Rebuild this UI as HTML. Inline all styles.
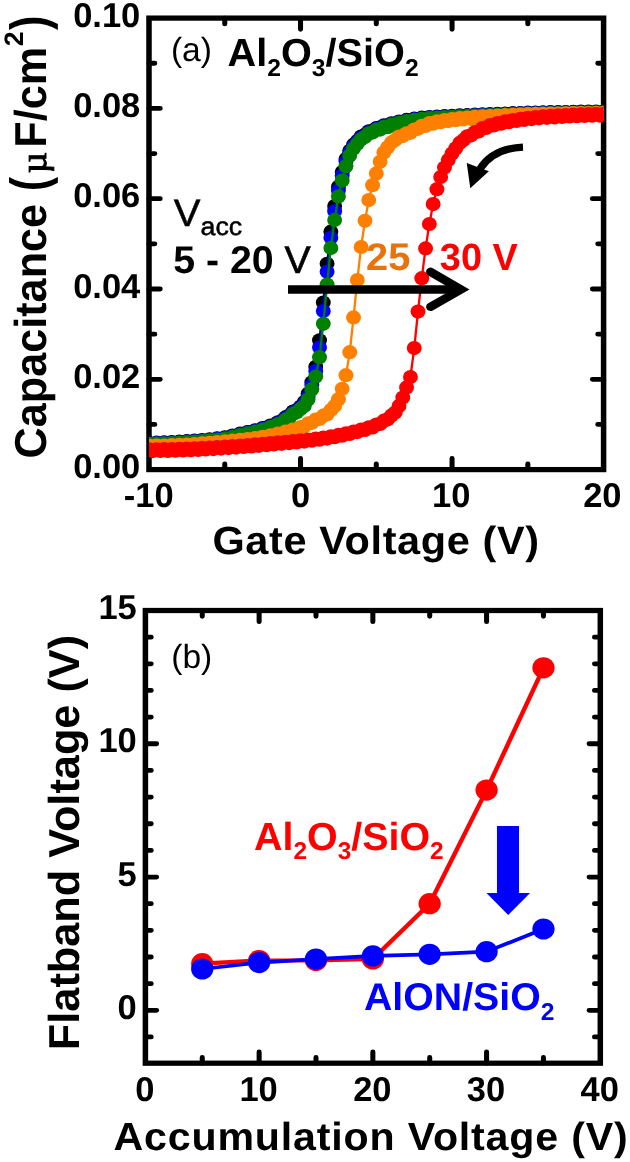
<!DOCTYPE html>
<html lang="en"><head><meta charset="utf-8"><title>C-V characteristics and flatband voltage</title>
<style>html,body{margin:0;padding:0;background:#fff}svg{display:block}</style></head>
<body>
<svg width="630" height="1162" viewBox="0 0 630 1162" font-family="'Liberation Sans', Arial, sans-serif" font-weight="bold" text-rendering="geometricPrecision">
<rect width="630" height="1162" fill="#fff"/>
<g transform="scale(1.05 1)">
<rect x="141.90" y="18.10" width="432.95" height="451.50" fill="none" stroke="#000" stroke-width="5.25" stroke-linejoin="miter"/>
<path d="M286.22 469.60L286.22 458.40 M286.22 18.10L286.22 29.30 M430.54 469.60L430.54 458.40 M430.54 18.10L430.54 29.30 M214.06 469.60L214.06 463.80 M214.06 18.10L214.06 23.90 M358.38 469.60L358.38 463.80 M358.38 18.10L358.38 23.90 M502.70 469.60L502.70 463.80 M502.70 18.10L502.70 23.90 M141.90 379.30L152.57 379.30 M574.86 379.30L564.19 379.30 M141.90 289.00L152.57 289.00 M574.86 289.00L564.19 289.00 M141.90 198.70L152.57 198.70 M574.86 198.70L564.19 198.70 M141.90 108.40L152.57 108.40 M574.86 108.40L564.19 108.40 M141.90 424.45L147.43 424.45 M574.86 424.45L569.33 424.45 M141.90 334.15L147.43 334.15 M574.86 334.15L569.33 334.15 M141.90 243.85L147.43 243.85 M574.86 243.85L569.33 243.85 M141.90 153.55L147.43 153.55 M574.86 153.55L569.33 153.55 M141.90 63.25L147.43 63.25 M574.86 63.25L569.33 63.25" fill="none" stroke="#000" stroke-width="4.8" stroke-linecap="round"/>
<clipPath id="clipT"><rect x="141.90" y="18.1" width="432.95" height="451.50"/></clipPath>
<g id="cv" clip-path="url(#clipT)">
<polyline points="141.9,442.9 145.5,444.6 149.1,442.7 152.7,444.4 156.3,442.4 159.9,444.0 163.6,442.1 167.2,443.6 170.8,441.6 174.4,443.1 178.0,441.1 181.6,442.6 185.2,440.6 188.8,442.0 192.4,440.0 196.0,441.4 199.6,439.3 203.2,440.5 206.8,438.4 210.5,439.5 214.1,437.3 217.7,438.1 221.3,435.6 224.9,436.2 228.5,433.7 232.1,434.4 235.7,432.0 239.3,432.7 242.9,430.3 246.5,430.7 250.1,428.1 253.8,428.3 257.4,425.6 261.0,425.4 264.6,422.3 268.2,421.2 271.8,417.4 275.4,415.5 279.0,411.6 282.6,410.2 286.2,406.5 289.8,402.0 293.4,393.8 297.0,382.3 300.7,366.8 304.3,340.3 307.9,302.6 311.5,263.8 315.1,231.7 318.7,206.0 322.3,186.8 325.9,172.1 329.5,158.9 333.1,150.8 336.7,144.7 340.3,140.9 343.9,136.6 347.6,134.7 351.2,131.3 354.8,130.9 358.4,128.0 362.0,128.0 365.6,125.3 369.2,125.8 372.8,123.3 376.4,123.9 380.0,121.5 383.6,122.3 387.2,119.9 390.9,120.9 394.5,118.7 398.1,119.8 401.7,117.7 405.3,119.1 408.9,117.1 412.5,118.6 416.1,116.6 419.7,118.1 423.3,116.2 426.9,117.7 430.5,115.8 434.1,117.3 437.8,115.4 441.4,117.0 445.0,115.1 448.6,116.6 452.2,114.7 455.8,116.3 459.4,114.4 463.0,116.0 466.6,114.1 470.2,115.7 473.8,113.8 477.4,115.4 481.1,113.5 484.7,115.1 488.3,113.2 491.9,114.9 495.5,113.0 499.1,114.6 502.7,112.7 506.3,114.4 509.9,112.5 513.5,114.2 517.1,112.4 520.7,114.1 524.3,112.2 528.0,113.9 531.6,112.1 535.2,113.8 538.8,112.0 542.4,113.7 546.0,111.8 549.6,113.6 553.2,111.7 556.8,113.5 560.4,111.7 564.0,113.4 567.6,111.6 571.2,113.4 574.9,111.6" fill="none" stroke="#000000" stroke-width="2.2" stroke-linejoin="round"/>
<g fill="#000000"><circle cx="141.9" cy="442.9" r="7.1"/><circle cx="145.5" cy="444.6" r="7.1"/><circle cx="149.1" cy="442.7" r="7.1"/><circle cx="152.7" cy="444.4" r="7.1"/><circle cx="156.3" cy="442.4" r="7.1"/><circle cx="159.9" cy="444.0" r="7.1"/><circle cx="163.6" cy="442.1" r="7.1"/><circle cx="167.2" cy="443.6" r="7.1"/><circle cx="170.8" cy="441.6" r="7.1"/><circle cx="174.4" cy="443.1" r="7.1"/><circle cx="178.0" cy="441.1" r="7.1"/><circle cx="181.6" cy="442.6" r="7.1"/><circle cx="185.2" cy="440.6" r="7.1"/><circle cx="188.8" cy="442.0" r="7.1"/><circle cx="192.4" cy="440.0" r="7.1"/><circle cx="196.0" cy="441.4" r="7.1"/><circle cx="199.6" cy="439.3" r="7.1"/><circle cx="203.2" cy="440.5" r="7.1"/><circle cx="206.8" cy="438.4" r="7.1"/><circle cx="210.5" cy="439.5" r="7.1"/><circle cx="214.1" cy="437.3" r="7.1"/><circle cx="217.7" cy="438.1" r="7.1"/><circle cx="221.3" cy="435.6" r="7.1"/><circle cx="224.9" cy="436.2" r="7.1"/><circle cx="228.5" cy="433.7" r="7.1"/><circle cx="232.1" cy="434.4" r="7.1"/><circle cx="235.7" cy="432.0" r="7.1"/><circle cx="239.3" cy="432.7" r="7.1"/><circle cx="242.9" cy="430.3" r="7.1"/><circle cx="246.5" cy="430.7" r="7.1"/><circle cx="250.1" cy="428.1" r="7.1"/><circle cx="253.8" cy="428.3" r="7.1"/><circle cx="257.4" cy="425.6" r="7.1"/><circle cx="261.0" cy="425.4" r="7.1"/><circle cx="264.6" cy="422.3" r="7.1"/><circle cx="268.2" cy="421.2" r="7.1"/><circle cx="271.8" cy="417.4" r="7.1"/><circle cx="275.4" cy="415.5" r="7.1"/><circle cx="279.0" cy="411.6" r="7.1"/><circle cx="282.6" cy="410.2" r="7.1"/><circle cx="286.2" cy="406.5" r="7.1"/><circle cx="289.8" cy="402.0" r="7.1"/><circle cx="293.4" cy="393.8" r="7.1"/><circle cx="297.0" cy="382.3" r="7.1"/><circle cx="300.7" cy="366.8" r="7.1"/><circle cx="304.3" cy="340.3" r="7.1"/><circle cx="307.9" cy="302.6" r="7.1"/><circle cx="311.5" cy="263.8" r="7.1"/><circle cx="315.1" cy="231.7" r="7.1"/><circle cx="318.7" cy="206.0" r="7.1"/><circle cx="322.3" cy="186.8" r="7.1"/><circle cx="325.9" cy="172.1" r="7.1"/><circle cx="329.5" cy="158.9" r="7.1"/><circle cx="333.1" cy="150.8" r="7.1"/><circle cx="336.7" cy="144.7" r="7.1"/><circle cx="340.3" cy="140.9" r="7.1"/><circle cx="343.9" cy="136.6" r="7.1"/><circle cx="347.6" cy="134.7" r="7.1"/><circle cx="351.2" cy="131.3" r="7.1"/><circle cx="354.8" cy="130.9" r="7.1"/><circle cx="358.4" cy="128.0" r="7.1"/><circle cx="362.0" cy="128.0" r="7.1"/><circle cx="365.6" cy="125.3" r="7.1"/><circle cx="369.2" cy="125.8" r="7.1"/><circle cx="372.8" cy="123.3" r="7.1"/><circle cx="376.4" cy="123.9" r="7.1"/><circle cx="380.0" cy="121.5" r="7.1"/><circle cx="383.6" cy="122.3" r="7.1"/><circle cx="387.2" cy="119.9" r="7.1"/><circle cx="390.9" cy="120.9" r="7.1"/><circle cx="394.5" cy="118.7" r="7.1"/><circle cx="398.1" cy="119.8" r="7.1"/><circle cx="401.7" cy="117.7" r="7.1"/><circle cx="405.3" cy="119.1" r="7.1"/><circle cx="408.9" cy="117.1" r="7.1"/><circle cx="412.5" cy="118.6" r="7.1"/><circle cx="416.1" cy="116.6" r="7.1"/><circle cx="419.7" cy="118.1" r="7.1"/><circle cx="423.3" cy="116.2" r="7.1"/><circle cx="426.9" cy="117.7" r="7.1"/><circle cx="430.5" cy="115.8" r="7.1"/><circle cx="434.1" cy="117.3" r="7.1"/><circle cx="437.8" cy="115.4" r="7.1"/><circle cx="441.4" cy="117.0" r="7.1"/><circle cx="445.0" cy="115.1" r="7.1"/><circle cx="448.6" cy="116.6" r="7.1"/><circle cx="452.2" cy="114.7" r="7.1"/><circle cx="455.8" cy="116.3" r="7.1"/><circle cx="459.4" cy="114.4" r="7.1"/><circle cx="463.0" cy="116.0" r="7.1"/><circle cx="466.6" cy="114.1" r="7.1"/><circle cx="470.2" cy="115.7" r="7.1"/><circle cx="473.8" cy="113.8" r="7.1"/><circle cx="477.4" cy="115.4" r="7.1"/><circle cx="481.1" cy="113.5" r="7.1"/><circle cx="484.7" cy="115.1" r="7.1"/><circle cx="488.3" cy="113.2" r="7.1"/><circle cx="491.9" cy="114.9" r="7.1"/><circle cx="495.5" cy="113.0" r="7.1"/><circle cx="499.1" cy="114.6" r="7.1"/><circle cx="502.7" cy="112.7" r="7.1"/><circle cx="506.3" cy="114.4" r="7.1"/><circle cx="509.9" cy="112.5" r="7.1"/><circle cx="513.5" cy="114.2" r="7.1"/><circle cx="517.1" cy="112.4" r="7.1"/><circle cx="520.7" cy="114.1" r="7.1"/><circle cx="524.3" cy="112.2" r="7.1"/><circle cx="528.0" cy="113.9" r="7.1"/><circle cx="531.6" cy="112.1" r="7.1"/><circle cx="535.2" cy="113.8" r="7.1"/><circle cx="538.8" cy="112.0" r="7.1"/><circle cx="542.4" cy="113.7" r="7.1"/><circle cx="546.0" cy="111.8" r="7.1"/><circle cx="549.6" cy="113.6" r="7.1"/><circle cx="553.2" cy="111.7" r="7.1"/><circle cx="556.8" cy="113.5" r="7.1"/><circle cx="560.4" cy="111.7" r="7.1"/><circle cx="564.0" cy="113.4" r="7.1"/><circle cx="567.6" cy="111.6" r="7.1"/><circle cx="571.2" cy="113.4" r="7.1"/><circle cx="574.9" cy="111.6" r="7.1"/></g>
<polyline points="141.9,443.4 145.5,445.1 149.1,443.2 152.7,444.8 156.3,442.9 159.9,444.5 163.6,442.5 167.2,444.1 170.8,442.1 174.4,443.6 178.0,441.6 181.6,443.1 185.2,441.1 188.8,442.5 192.4,440.5 196.0,441.9 199.6,439.8 203.2,441.1 206.8,438.9 210.5,440.1 214.1,437.9 217.7,438.7 221.3,436.2 224.9,436.8 228.5,434.3 232.1,435.0 235.7,432.7 239.3,433.4 242.9,430.9 246.5,431.4 250.1,428.8 253.8,429.0 257.4,426.3 261.0,426.2 264.6,423.2 268.2,422.1 271.8,418.4 275.4,416.5 279.0,412.6 282.6,411.1 286.2,407.5 289.8,403.7 293.4,396.4 297.0,385.1 300.7,370.9 304.3,347.5 307.9,311.1 311.5,271.8 315.1,237.8 318.7,211.3 322.3,190.4 325.9,175.5 329.5,161.6 333.1,152.7 336.7,146.3 340.3,142.1 343.9,137.7 347.6,135.7 351.2,132.2 354.8,131.6 358.4,128.7 362.0,128.7 365.6,126.0 369.2,126.4 372.8,123.9 376.4,124.5 380.0,122.1 383.6,122.9 387.2,120.5 390.9,121.4 394.5,119.2 398.1,120.4 401.7,118.3 405.3,119.6 408.9,117.6 412.5,119.1 416.1,117.1 419.7,118.6 423.3,116.7 426.9,118.2 430.5,116.3 434.1,117.8 437.8,115.9 441.4,117.5 445.0,115.5 448.6,117.1 452.2,115.2 455.8,116.8 459.4,114.9 463.0,116.5 466.6,114.6 470.2,116.2 473.8,114.3 477.4,115.9 481.1,114.0 484.7,115.6 488.3,113.7 491.9,115.3 495.5,113.4 499.1,115.1 502.7,113.2 506.3,114.9 509.9,113.0 513.5,114.7 517.1,112.8 520.7,114.5 524.3,112.7 528.0,114.4 531.6,112.5 535.2,114.3 538.8,112.4 542.4,114.1 546.0,112.3 549.6,114.0 553.2,112.2 556.8,113.9 560.4,112.1 564.0,113.9 567.6,112.0 571.2,113.8 574.9,112.0" fill="none" stroke="#0000ff" stroke-width="2.2" stroke-linejoin="round"/>
<g fill="#0000ff"><circle cx="141.9" cy="443.4" r="7.1"/><circle cx="145.5" cy="445.1" r="7.1"/><circle cx="149.1" cy="443.2" r="7.1"/><circle cx="152.7" cy="444.8" r="7.1"/><circle cx="156.3" cy="442.9" r="7.1"/><circle cx="159.9" cy="444.5" r="7.1"/><circle cx="163.6" cy="442.5" r="7.1"/><circle cx="167.2" cy="444.1" r="7.1"/><circle cx="170.8" cy="442.1" r="7.1"/><circle cx="174.4" cy="443.6" r="7.1"/><circle cx="178.0" cy="441.6" r="7.1"/><circle cx="181.6" cy="443.1" r="7.1"/><circle cx="185.2" cy="441.1" r="7.1"/><circle cx="188.8" cy="442.5" r="7.1"/><circle cx="192.4" cy="440.5" r="7.1"/><circle cx="196.0" cy="441.9" r="7.1"/><circle cx="199.6" cy="439.8" r="7.1"/><circle cx="203.2" cy="441.1" r="7.1"/><circle cx="206.8" cy="438.9" r="7.1"/><circle cx="210.5" cy="440.1" r="7.1"/><circle cx="214.1" cy="437.9" r="7.1"/><circle cx="217.7" cy="438.7" r="7.1"/><circle cx="221.3" cy="436.2" r="7.1"/><circle cx="224.9" cy="436.8" r="7.1"/><circle cx="228.5" cy="434.3" r="7.1"/><circle cx="232.1" cy="435.0" r="7.1"/><circle cx="235.7" cy="432.7" r="7.1"/><circle cx="239.3" cy="433.4" r="7.1"/><circle cx="242.9" cy="430.9" r="7.1"/><circle cx="246.5" cy="431.4" r="7.1"/><circle cx="250.1" cy="428.8" r="7.1"/><circle cx="253.8" cy="429.0" r="7.1"/><circle cx="257.4" cy="426.3" r="7.1"/><circle cx="261.0" cy="426.2" r="7.1"/><circle cx="264.6" cy="423.2" r="7.1"/><circle cx="268.2" cy="422.1" r="7.1"/><circle cx="271.8" cy="418.4" r="7.1"/><circle cx="275.4" cy="416.5" r="7.1"/><circle cx="279.0" cy="412.6" r="7.1"/><circle cx="282.6" cy="411.1" r="7.1"/><circle cx="286.2" cy="407.5" r="7.1"/><circle cx="289.8" cy="403.7" r="7.1"/><circle cx="293.4" cy="396.4" r="7.1"/><circle cx="297.0" cy="385.1" r="7.1"/><circle cx="300.7" cy="370.9" r="7.1"/><circle cx="304.3" cy="347.5" r="7.1"/><circle cx="307.9" cy="311.1" r="7.1"/><circle cx="311.5" cy="271.8" r="7.1"/><circle cx="315.1" cy="237.8" r="7.1"/><circle cx="318.7" cy="211.3" r="7.1"/><circle cx="322.3" cy="190.4" r="7.1"/><circle cx="325.9" cy="175.5" r="7.1"/><circle cx="329.5" cy="161.6" r="7.1"/><circle cx="333.1" cy="152.7" r="7.1"/><circle cx="336.7" cy="146.3" r="7.1"/><circle cx="340.3" cy="142.1" r="7.1"/><circle cx="343.9" cy="137.7" r="7.1"/><circle cx="347.6" cy="135.7" r="7.1"/><circle cx="351.2" cy="132.2" r="7.1"/><circle cx="354.8" cy="131.6" r="7.1"/><circle cx="358.4" cy="128.7" r="7.1"/><circle cx="362.0" cy="128.7" r="7.1"/><circle cx="365.6" cy="126.0" r="7.1"/><circle cx="369.2" cy="126.4" r="7.1"/><circle cx="372.8" cy="123.9" r="7.1"/><circle cx="376.4" cy="124.5" r="7.1"/><circle cx="380.0" cy="122.1" r="7.1"/><circle cx="383.6" cy="122.9" r="7.1"/><circle cx="387.2" cy="120.5" r="7.1"/><circle cx="390.9" cy="121.4" r="7.1"/><circle cx="394.5" cy="119.2" r="7.1"/><circle cx="398.1" cy="120.4" r="7.1"/><circle cx="401.7" cy="118.3" r="7.1"/><circle cx="405.3" cy="119.6" r="7.1"/><circle cx="408.9" cy="117.6" r="7.1"/><circle cx="412.5" cy="119.1" r="7.1"/><circle cx="416.1" cy="117.1" r="7.1"/><circle cx="419.7" cy="118.6" r="7.1"/><circle cx="423.3" cy="116.7" r="7.1"/><circle cx="426.9" cy="118.2" r="7.1"/><circle cx="430.5" cy="116.3" r="7.1"/><circle cx="434.1" cy="117.8" r="7.1"/><circle cx="437.8" cy="115.9" r="7.1"/><circle cx="441.4" cy="117.5" r="7.1"/><circle cx="445.0" cy="115.5" r="7.1"/><circle cx="448.6" cy="117.1" r="7.1"/><circle cx="452.2" cy="115.2" r="7.1"/><circle cx="455.8" cy="116.8" r="7.1"/><circle cx="459.4" cy="114.9" r="7.1"/><circle cx="463.0" cy="116.5" r="7.1"/><circle cx="466.6" cy="114.6" r="7.1"/><circle cx="470.2" cy="116.2" r="7.1"/><circle cx="473.8" cy="114.3" r="7.1"/><circle cx="477.4" cy="115.9" r="7.1"/><circle cx="481.1" cy="114.0" r="7.1"/><circle cx="484.7" cy="115.6" r="7.1"/><circle cx="488.3" cy="113.7" r="7.1"/><circle cx="491.9" cy="115.3" r="7.1"/><circle cx="495.5" cy="113.4" r="7.1"/><circle cx="499.1" cy="115.1" r="7.1"/><circle cx="502.7" cy="113.2" r="7.1"/><circle cx="506.3" cy="114.9" r="7.1"/><circle cx="509.9" cy="113.0" r="7.1"/><circle cx="513.5" cy="114.7" r="7.1"/><circle cx="517.1" cy="112.8" r="7.1"/><circle cx="520.7" cy="114.5" r="7.1"/><circle cx="524.3" cy="112.7" r="7.1"/><circle cx="528.0" cy="114.4" r="7.1"/><circle cx="531.6" cy="112.5" r="7.1"/><circle cx="535.2" cy="114.3" r="7.1"/><circle cx="538.8" cy="112.4" r="7.1"/><circle cx="542.4" cy="114.1" r="7.1"/><circle cx="546.0" cy="112.3" r="7.1"/><circle cx="549.6" cy="114.0" r="7.1"/><circle cx="553.2" cy="112.2" r="7.1"/><circle cx="556.8" cy="113.9" r="7.1"/><circle cx="560.4" cy="112.1" r="7.1"/><circle cx="564.0" cy="113.9" r="7.1"/><circle cx="567.6" cy="112.0" r="7.1"/><circle cx="571.2" cy="113.8" r="7.1"/><circle cx="574.9" cy="112.0" r="7.1"/></g>
<polyline points="141.9,443.9 145.5,445.6 149.1,443.7 152.7,445.3 156.3,443.4 159.9,445.0 163.6,443.1 167.2,444.6 170.8,442.6 174.4,444.1 178.0,442.2 181.6,443.6 185.2,441.6 188.8,443.1 192.4,441.1 196.0,442.5 199.6,440.4 203.2,441.7 206.8,439.6 210.5,440.7 214.1,438.5 217.7,439.4 221.3,437.0 224.9,437.6 228.5,435.1 232.1,435.8 235.7,433.4 239.3,434.1 242.9,431.7 246.5,432.2 250.1,429.6 253.8,429.9 257.4,427.2 261.0,427.1 264.6,424.2 268.2,423.4 271.8,419.7 275.4,417.9 279.0,414.0 282.6,412.3 286.2,408.9 289.8,406.0 293.4,399.6 297.0,389.2 300.7,376.6 304.3,357.2 307.9,323.8 311.5,284.5 315.1,247.9 318.7,219.9 322.3,196.4 325.9,180.6 329.5,166.2 333.1,155.5 336.7,148.6 340.3,143.8 343.9,139.3 347.6,137.0 351.2,133.3 354.8,132.6 358.4,129.7 362.0,129.6 365.6,126.9 369.2,127.2 372.8,124.7 376.4,125.3 380.0,122.8 383.6,123.6 387.2,121.2 390.9,122.1 394.5,119.9 398.1,121.0 401.7,118.8 405.3,120.2 408.9,118.2 412.5,119.6 416.1,117.7 419.7,119.2 423.3,117.2 426.9,118.7 430.5,116.8 434.1,118.3 437.8,116.4 441.4,118.0 445.0,116.1 448.6,117.6 452.2,115.7 455.8,117.3 459.4,115.4 463.0,117.0 466.6,115.1 470.2,116.7 473.8,114.8 477.4,116.4 481.1,114.5 484.7,116.1 488.3,114.2 491.9,115.8 495.5,113.9 499.1,115.6 502.7,113.7 506.3,115.4 509.9,113.5 513.5,115.2 517.1,113.3 520.7,115.0 524.3,113.2 528.0,114.9 531.6,113.0 535.2,114.7 538.8,112.9 542.4,114.6 546.0,112.8 549.6,114.5 553.2,112.7 556.8,114.4 560.4,112.6 564.0,114.3 567.6,112.5 571.2,114.3 574.9,112.5" fill="none" stroke="#008000" stroke-width="2.2" stroke-linejoin="round"/>
<g fill="#008000"><circle cx="141.9" cy="443.9" r="7.1"/><circle cx="145.5" cy="445.6" r="7.1"/><circle cx="149.1" cy="443.7" r="7.1"/><circle cx="152.7" cy="445.3" r="7.1"/><circle cx="156.3" cy="443.4" r="7.1"/><circle cx="159.9" cy="445.0" r="7.1"/><circle cx="163.6" cy="443.1" r="7.1"/><circle cx="167.2" cy="444.6" r="7.1"/><circle cx="170.8" cy="442.6" r="7.1"/><circle cx="174.4" cy="444.1" r="7.1"/><circle cx="178.0" cy="442.2" r="7.1"/><circle cx="181.6" cy="443.6" r="7.1"/><circle cx="185.2" cy="441.6" r="7.1"/><circle cx="188.8" cy="443.1" r="7.1"/><circle cx="192.4" cy="441.1" r="7.1"/><circle cx="196.0" cy="442.5" r="7.1"/><circle cx="199.6" cy="440.4" r="7.1"/><circle cx="203.2" cy="441.7" r="7.1"/><circle cx="206.8" cy="439.6" r="7.1"/><circle cx="210.5" cy="440.7" r="7.1"/><circle cx="214.1" cy="438.5" r="7.1"/><circle cx="217.7" cy="439.4" r="7.1"/><circle cx="221.3" cy="437.0" r="7.1"/><circle cx="224.9" cy="437.6" r="7.1"/><circle cx="228.5" cy="435.1" r="7.1"/><circle cx="232.1" cy="435.8" r="7.1"/><circle cx="235.7" cy="433.4" r="7.1"/><circle cx="239.3" cy="434.1" r="7.1"/><circle cx="242.9" cy="431.7" r="7.1"/><circle cx="246.5" cy="432.2" r="7.1"/><circle cx="250.1" cy="429.6" r="7.1"/><circle cx="253.8" cy="429.9" r="7.1"/><circle cx="257.4" cy="427.2" r="7.1"/><circle cx="261.0" cy="427.1" r="7.1"/><circle cx="264.6" cy="424.2" r="7.1"/><circle cx="268.2" cy="423.4" r="7.1"/><circle cx="271.8" cy="419.7" r="7.1"/><circle cx="275.4" cy="417.9" r="7.1"/><circle cx="279.0" cy="414.0" r="7.1"/><circle cx="282.6" cy="412.3" r="7.1"/><circle cx="286.2" cy="408.9" r="7.1"/><circle cx="289.8" cy="406.0" r="7.1"/><circle cx="293.4" cy="399.6" r="7.1"/><circle cx="297.0" cy="389.2" r="7.1"/><circle cx="300.7" cy="376.6" r="7.1"/><circle cx="304.3" cy="357.2" r="7.1"/><circle cx="307.9" cy="323.8" r="7.1"/><circle cx="311.5" cy="284.5" r="7.1"/><circle cx="315.1" cy="247.9" r="7.1"/><circle cx="318.7" cy="219.9" r="7.1"/><circle cx="322.3" cy="196.4" r="7.1"/><circle cx="325.9" cy="180.6" r="7.1"/><circle cx="329.5" cy="166.2" r="7.1"/><circle cx="333.1" cy="155.5" r="7.1"/><circle cx="336.7" cy="148.6" r="7.1"/><circle cx="340.3" cy="143.8" r="7.1"/><circle cx="343.9" cy="139.3" r="7.1"/><circle cx="347.6" cy="137.0" r="7.1"/><circle cx="351.2" cy="133.3" r="7.1"/><circle cx="354.8" cy="132.6" r="7.1"/><circle cx="358.4" cy="129.7" r="7.1"/><circle cx="362.0" cy="129.6" r="7.1"/><circle cx="365.6" cy="126.9" r="7.1"/><circle cx="369.2" cy="127.2" r="7.1"/><circle cx="372.8" cy="124.7" r="7.1"/><circle cx="376.4" cy="125.3" r="7.1"/><circle cx="380.0" cy="122.8" r="7.1"/><circle cx="383.6" cy="123.6" r="7.1"/><circle cx="387.2" cy="121.2" r="7.1"/><circle cx="390.9" cy="122.1" r="7.1"/><circle cx="394.5" cy="119.9" r="7.1"/><circle cx="398.1" cy="121.0" r="7.1"/><circle cx="401.7" cy="118.8" r="7.1"/><circle cx="405.3" cy="120.2" r="7.1"/><circle cx="408.9" cy="118.2" r="7.1"/><circle cx="412.5" cy="119.6" r="7.1"/><circle cx="416.1" cy="117.7" r="7.1"/><circle cx="419.7" cy="119.2" r="7.1"/><circle cx="423.3" cy="117.2" r="7.1"/><circle cx="426.9" cy="118.7" r="7.1"/><circle cx="430.5" cy="116.8" r="7.1"/><circle cx="434.1" cy="118.3" r="7.1"/><circle cx="437.8" cy="116.4" r="7.1"/><circle cx="441.4" cy="118.0" r="7.1"/><circle cx="445.0" cy="116.1" r="7.1"/><circle cx="448.6" cy="117.6" r="7.1"/><circle cx="452.2" cy="115.7" r="7.1"/><circle cx="455.8" cy="117.3" r="7.1"/><circle cx="459.4" cy="115.4" r="7.1"/><circle cx="463.0" cy="117.0" r="7.1"/><circle cx="466.6" cy="115.1" r="7.1"/><circle cx="470.2" cy="116.7" r="7.1"/><circle cx="473.8" cy="114.8" r="7.1"/><circle cx="477.4" cy="116.4" r="7.1"/><circle cx="481.1" cy="114.5" r="7.1"/><circle cx="484.7" cy="116.1" r="7.1"/><circle cx="488.3" cy="114.2" r="7.1"/><circle cx="491.9" cy="115.8" r="7.1"/><circle cx="495.5" cy="113.9" r="7.1"/><circle cx="499.1" cy="115.6" r="7.1"/><circle cx="502.7" cy="113.7" r="7.1"/><circle cx="506.3" cy="115.4" r="7.1"/><circle cx="509.9" cy="113.5" r="7.1"/><circle cx="513.5" cy="115.2" r="7.1"/><circle cx="517.1" cy="113.3" r="7.1"/><circle cx="520.7" cy="115.0" r="7.1"/><circle cx="524.3" cy="113.2" r="7.1"/><circle cx="528.0" cy="114.9" r="7.1"/><circle cx="531.6" cy="113.0" r="7.1"/><circle cx="535.2" cy="114.7" r="7.1"/><circle cx="538.8" cy="112.9" r="7.1"/><circle cx="542.4" cy="114.6" r="7.1"/><circle cx="546.0" cy="112.8" r="7.1"/><circle cx="549.6" cy="114.5" r="7.1"/><circle cx="553.2" cy="112.7" r="7.1"/><circle cx="556.8" cy="114.4" r="7.1"/><circle cx="560.4" cy="112.6" r="7.1"/><circle cx="564.0" cy="114.3" r="7.1"/><circle cx="567.6" cy="112.5" r="7.1"/><circle cx="571.2" cy="114.3" r="7.1"/><circle cx="574.9" cy="112.5" r="7.1"/></g>
<polyline points="141.9,445.7 145.5,447.5 149.1,445.6 152.7,447.3 156.3,445.5 159.9,447.1 163.6,445.2 167.2,446.8 170.8,444.9 174.4,446.4 178.0,444.5 181.6,445.9 185.2,444.0 188.8,445.4 192.4,443.4 196.0,444.8 199.6,442.8 203.2,444.2 206.8,442.1 210.5,443.5 214.1,441.4 217.7,442.7 221.3,440.7 224.9,442.0 228.5,439.9 232.1,441.2 235.7,439.1 239.3,440.2 242.9,438.0 246.5,439.0 250.1,436.8 253.8,437.6 257.4,435.3 261.0,436.0 264.6,433.6 268.2,434.2 271.8,431.7 275.4,432.2 279.0,429.6 282.6,429.9 286.2,427.1 289.8,426.6 293.4,423.4 297.0,422.8 300.7,419.6 304.3,419.0 307.9,415.7 311.5,414.2 315.1,410.1 318.7,406.0 322.3,399.2 325.9,388.8 329.5,375.2 333.1,352.2 336.7,317.4 340.3,280.0 343.9,247.0 347.6,220.8 351.2,200.1 354.8,185.2 358.4,173.4 362.0,161.8 365.6,152.6 369.2,147.3 372.8,142.4 376.4,140.0 380.0,136.5 383.6,136.1 387.2,133.3 390.9,132.8 394.5,129.5 398.1,128.8 401.7,125.8 405.3,125.9 408.9,123.2 412.5,123.7 416.1,121.3 419.7,122.2 423.3,120.0 426.9,121.1 430.5,119.0 434.1,120.2 437.8,118.1 441.4,119.5 445.0,117.5 448.6,118.9 452.2,116.9 455.8,118.3 459.4,116.4 463.0,117.9 466.6,116.0 470.2,117.5 473.8,115.6 477.4,117.1 481.1,115.2 484.7,116.8 488.3,114.8 491.9,116.4 495.5,114.5 499.1,116.1 502.7,114.2 506.3,115.8 509.9,113.9 513.5,115.6 517.1,113.8 520.7,115.5 524.3,113.6 528.0,115.3 531.6,113.5 535.2,115.2 538.8,113.3 542.4,115.0 546.0,113.2 549.6,114.9 553.2,113.1 556.8,114.8 560.4,113.0 564.0,114.8 567.6,112.9 571.2,114.7 574.9,112.9" fill="none" stroke="#ff8000" stroke-width="2.2" stroke-linejoin="round"/>
<g fill="#ff8000"><circle cx="141.9" cy="445.7" r="7.1"/><circle cx="145.5" cy="447.5" r="7.1"/><circle cx="149.1" cy="445.6" r="7.1"/><circle cx="152.7" cy="447.3" r="7.1"/><circle cx="156.3" cy="445.5" r="7.1"/><circle cx="159.9" cy="447.1" r="7.1"/><circle cx="163.6" cy="445.2" r="7.1"/><circle cx="167.2" cy="446.8" r="7.1"/><circle cx="170.8" cy="444.9" r="7.1"/><circle cx="174.4" cy="446.4" r="7.1"/><circle cx="178.0" cy="444.5" r="7.1"/><circle cx="181.6" cy="445.9" r="7.1"/><circle cx="185.2" cy="444.0" r="7.1"/><circle cx="188.8" cy="445.4" r="7.1"/><circle cx="192.4" cy="443.4" r="7.1"/><circle cx="196.0" cy="444.8" r="7.1"/><circle cx="199.6" cy="442.8" r="7.1"/><circle cx="203.2" cy="444.2" r="7.1"/><circle cx="206.8" cy="442.1" r="7.1"/><circle cx="210.5" cy="443.5" r="7.1"/><circle cx="214.1" cy="441.4" r="7.1"/><circle cx="217.7" cy="442.7" r="7.1"/><circle cx="221.3" cy="440.7" r="7.1"/><circle cx="224.9" cy="442.0" r="7.1"/><circle cx="228.5" cy="439.9" r="7.1"/><circle cx="232.1" cy="441.2" r="7.1"/><circle cx="235.7" cy="439.1" r="7.1"/><circle cx="239.3" cy="440.2" r="7.1"/><circle cx="242.9" cy="438.0" r="7.1"/><circle cx="246.5" cy="439.0" r="7.1"/><circle cx="250.1" cy="436.8" r="7.1"/><circle cx="253.8" cy="437.6" r="7.1"/><circle cx="257.4" cy="435.3" r="7.1"/><circle cx="261.0" cy="436.0" r="7.1"/><circle cx="264.6" cy="433.6" r="7.1"/><circle cx="268.2" cy="434.2" r="7.1"/><circle cx="271.8" cy="431.7" r="7.1"/><circle cx="275.4" cy="432.2" r="7.1"/><circle cx="279.0" cy="429.6" r="7.1"/><circle cx="282.6" cy="429.9" r="7.1"/><circle cx="286.2" cy="427.1" r="7.1"/><circle cx="289.8" cy="426.6" r="7.1"/><circle cx="293.4" cy="423.4" r="7.1"/><circle cx="297.0" cy="422.8" r="7.1"/><circle cx="300.7" cy="419.6" r="7.1"/><circle cx="304.3" cy="419.0" r="7.1"/><circle cx="307.9" cy="415.7" r="7.1"/><circle cx="311.5" cy="414.2" r="7.1"/><circle cx="315.1" cy="410.1" r="7.1"/><circle cx="318.7" cy="406.0" r="7.1"/><circle cx="322.3" cy="399.2" r="7.1"/><circle cx="325.9" cy="388.8" r="7.1"/><circle cx="329.5" cy="375.2" r="7.1"/><circle cx="333.1" cy="352.2" r="7.1"/><circle cx="336.7" cy="317.4" r="7.1"/><circle cx="340.3" cy="280.0" r="7.1"/><circle cx="343.9" cy="247.0" r="7.1"/><circle cx="347.6" cy="220.8" r="7.1"/><circle cx="351.2" cy="200.1" r="7.1"/><circle cx="354.8" cy="185.2" r="7.1"/><circle cx="358.4" cy="173.4" r="7.1"/><circle cx="362.0" cy="161.8" r="7.1"/><circle cx="365.6" cy="152.6" r="7.1"/><circle cx="369.2" cy="147.3" r="7.1"/><circle cx="372.8" cy="142.4" r="7.1"/><circle cx="376.4" cy="140.0" r="7.1"/><circle cx="380.0" cy="136.5" r="7.1"/><circle cx="383.6" cy="136.1" r="7.1"/><circle cx="387.2" cy="133.3" r="7.1"/><circle cx="390.9" cy="132.8" r="7.1"/><circle cx="394.5" cy="129.5" r="7.1"/><circle cx="398.1" cy="128.8" r="7.1"/><circle cx="401.7" cy="125.8" r="7.1"/><circle cx="405.3" cy="125.9" r="7.1"/><circle cx="408.9" cy="123.2" r="7.1"/><circle cx="412.5" cy="123.7" r="7.1"/><circle cx="416.1" cy="121.3" r="7.1"/><circle cx="419.7" cy="122.2" r="7.1"/><circle cx="423.3" cy="120.0" r="7.1"/><circle cx="426.9" cy="121.1" r="7.1"/><circle cx="430.5" cy="119.0" r="7.1"/><circle cx="434.1" cy="120.2" r="7.1"/><circle cx="437.8" cy="118.1" r="7.1"/><circle cx="441.4" cy="119.5" r="7.1"/><circle cx="445.0" cy="117.5" r="7.1"/><circle cx="448.6" cy="118.9" r="7.1"/><circle cx="452.2" cy="116.9" r="7.1"/><circle cx="455.8" cy="118.3" r="7.1"/><circle cx="459.4" cy="116.4" r="7.1"/><circle cx="463.0" cy="117.9" r="7.1"/><circle cx="466.6" cy="116.0" r="7.1"/><circle cx="470.2" cy="117.5" r="7.1"/><circle cx="473.8" cy="115.6" r="7.1"/><circle cx="477.4" cy="117.1" r="7.1"/><circle cx="481.1" cy="115.2" r="7.1"/><circle cx="484.7" cy="116.8" r="7.1"/><circle cx="488.3" cy="114.8" r="7.1"/><circle cx="491.9" cy="116.4" r="7.1"/><circle cx="495.5" cy="114.5" r="7.1"/><circle cx="499.1" cy="116.1" r="7.1"/><circle cx="502.7" cy="114.2" r="7.1"/><circle cx="506.3" cy="115.8" r="7.1"/><circle cx="509.9" cy="113.9" r="7.1"/><circle cx="513.5" cy="115.6" r="7.1"/><circle cx="517.1" cy="113.8" r="7.1"/><circle cx="520.7" cy="115.5" r="7.1"/><circle cx="524.3" cy="113.6" r="7.1"/><circle cx="528.0" cy="115.3" r="7.1"/><circle cx="531.6" cy="113.5" r="7.1"/><circle cx="535.2" cy="115.2" r="7.1"/><circle cx="538.8" cy="113.3" r="7.1"/><circle cx="542.4" cy="115.0" r="7.1"/><circle cx="546.0" cy="113.2" r="7.1"/><circle cx="549.6" cy="114.9" r="7.1"/><circle cx="553.2" cy="113.1" r="7.1"/><circle cx="556.8" cy="114.8" r="7.1"/><circle cx="560.4" cy="113.0" r="7.1"/><circle cx="564.0" cy="114.8" r="7.1"/><circle cx="567.6" cy="112.9" r="7.1"/><circle cx="571.2" cy="114.7" r="7.1"/><circle cx="574.9" cy="112.9" r="7.1"/></g>
<polyline points="141.9,449.3 145.5,451.1 149.1,449.3 152.7,451.0 156.3,449.2 159.9,450.9 163.6,449.0 167.2,450.7 170.8,448.8 174.4,450.5 178.0,448.6 181.6,450.2 185.2,448.3 188.8,449.9 192.4,447.9 196.0,449.5 199.6,447.5 203.2,449.1 206.8,447.1 210.5,448.6 214.1,446.6 217.7,448.1 221.3,446.1 224.9,447.6 228.5,445.6 232.1,447.0 235.7,445.0 239.3,446.4 242.9,444.4 246.5,445.8 250.1,443.8 253.8,445.2 257.4,443.1 261.0,444.5 264.6,442.4 268.2,443.8 271.8,441.8 275.4,443.1 279.0,441.0 282.6,442.4 286.2,440.3 289.8,441.6 293.4,439.5 297.0,440.7 300.7,438.6 304.3,439.7 307.9,437.5 311.5,438.6 315.1,436.3 318.7,437.2 322.3,434.9 325.9,435.7 329.5,433.3 333.1,434.0 336.7,431.5 340.3,432.1 343.9,429.5 347.6,429.9 351.2,427.3 354.8,427.4 358.4,424.5 362.0,424.0 365.6,420.7 369.2,419.3 372.8,415.4 376.4,412.5 380.0,405.9 383.6,397.5 387.2,387.4 390.9,377.0 394.5,348.1 398.1,311.6 401.7,278.2 405.3,248.4 408.9,224.0 412.5,204.1 416.1,189.2 419.7,177.0 423.3,167.5 426.9,159.9 430.5,153.5 434.1,148.3 437.8,142.9 441.4,140.1 445.0,136.3 448.6,135.3 452.2,132.2 455.8,131.4 459.4,128.2 463.0,127.9 466.6,125.2 470.2,125.5 473.8,123.0 477.4,123.7 481.1,121.3 484.7,122.2 488.3,120.0 491.9,121.0 495.5,118.9 499.1,120.0 502.7,117.8 506.3,119.1 509.9,117.0 513.5,118.3 517.1,116.4 520.7,117.8 524.3,115.9 528.0,117.4 531.6,115.4 535.2,116.9 538.8,115.0 542.4,116.5 546.0,114.6 549.6,116.2 553.2,114.3 556.8,115.9 560.4,114.0 564.0,115.7 567.6,113.9 571.2,115.6 574.9,113.8" fill="none" stroke="#ff0000" stroke-width="2.2" stroke-linejoin="round"/>
<g fill="#ff0000"><circle cx="141.9" cy="449.3" r="7.1"/><circle cx="145.5" cy="451.1" r="7.1"/><circle cx="149.1" cy="449.3" r="7.1"/><circle cx="152.7" cy="451.0" r="7.1"/><circle cx="156.3" cy="449.2" r="7.1"/><circle cx="159.9" cy="450.9" r="7.1"/><circle cx="163.6" cy="449.0" r="7.1"/><circle cx="167.2" cy="450.7" r="7.1"/><circle cx="170.8" cy="448.8" r="7.1"/><circle cx="174.4" cy="450.5" r="7.1"/><circle cx="178.0" cy="448.6" r="7.1"/><circle cx="181.6" cy="450.2" r="7.1"/><circle cx="185.2" cy="448.3" r="7.1"/><circle cx="188.8" cy="449.9" r="7.1"/><circle cx="192.4" cy="447.9" r="7.1"/><circle cx="196.0" cy="449.5" r="7.1"/><circle cx="199.6" cy="447.5" r="7.1"/><circle cx="203.2" cy="449.1" r="7.1"/><circle cx="206.8" cy="447.1" r="7.1"/><circle cx="210.5" cy="448.6" r="7.1"/><circle cx="214.1" cy="446.6" r="7.1"/><circle cx="217.7" cy="448.1" r="7.1"/><circle cx="221.3" cy="446.1" r="7.1"/><circle cx="224.9" cy="447.6" r="7.1"/><circle cx="228.5" cy="445.6" r="7.1"/><circle cx="232.1" cy="447.0" r="7.1"/><circle cx="235.7" cy="445.0" r="7.1"/><circle cx="239.3" cy="446.4" r="7.1"/><circle cx="242.9" cy="444.4" r="7.1"/><circle cx="246.5" cy="445.8" r="7.1"/><circle cx="250.1" cy="443.8" r="7.1"/><circle cx="253.8" cy="445.2" r="7.1"/><circle cx="257.4" cy="443.1" r="7.1"/><circle cx="261.0" cy="444.5" r="7.1"/><circle cx="264.6" cy="442.4" r="7.1"/><circle cx="268.2" cy="443.8" r="7.1"/><circle cx="271.8" cy="441.8" r="7.1"/><circle cx="275.4" cy="443.1" r="7.1"/><circle cx="279.0" cy="441.0" r="7.1"/><circle cx="282.6" cy="442.4" r="7.1"/><circle cx="286.2" cy="440.3" r="7.1"/><circle cx="289.8" cy="441.6" r="7.1"/><circle cx="293.4" cy="439.5" r="7.1"/><circle cx="297.0" cy="440.7" r="7.1"/><circle cx="300.7" cy="438.6" r="7.1"/><circle cx="304.3" cy="439.7" r="7.1"/><circle cx="307.9" cy="437.5" r="7.1"/><circle cx="311.5" cy="438.6" r="7.1"/><circle cx="315.1" cy="436.3" r="7.1"/><circle cx="318.7" cy="437.2" r="7.1"/><circle cx="322.3" cy="434.9" r="7.1"/><circle cx="325.9" cy="435.7" r="7.1"/><circle cx="329.5" cy="433.3" r="7.1"/><circle cx="333.1" cy="434.0" r="7.1"/><circle cx="336.7" cy="431.5" r="7.1"/><circle cx="340.3" cy="432.1" r="7.1"/><circle cx="343.9" cy="429.5" r="7.1"/><circle cx="347.6" cy="429.9" r="7.1"/><circle cx="351.2" cy="427.3" r="7.1"/><circle cx="354.8" cy="427.4" r="7.1"/><circle cx="358.4" cy="424.5" r="7.1"/><circle cx="362.0" cy="424.0" r="7.1"/><circle cx="365.6" cy="420.7" r="7.1"/><circle cx="369.2" cy="419.3" r="7.1"/><circle cx="372.8" cy="415.4" r="7.1"/><circle cx="376.4" cy="412.5" r="7.1"/><circle cx="380.0" cy="405.9" r="7.1"/><circle cx="383.6" cy="397.5" r="7.1"/><circle cx="387.2" cy="387.4" r="7.1"/><circle cx="390.9" cy="377.0" r="7.1"/><circle cx="394.5" cy="348.1" r="7.1"/><circle cx="398.1" cy="311.6" r="7.1"/><circle cx="401.7" cy="278.2" r="7.1"/><circle cx="405.3" cy="248.4" r="7.1"/><circle cx="408.9" cy="224.0" r="7.1"/><circle cx="412.5" cy="204.1" r="7.1"/><circle cx="416.1" cy="189.2" r="7.1"/><circle cx="419.7" cy="177.0" r="7.1"/><circle cx="423.3" cy="167.5" r="7.1"/><circle cx="426.9" cy="159.9" r="7.1"/><circle cx="430.5" cy="153.5" r="7.1"/><circle cx="434.1" cy="148.3" r="7.1"/><circle cx="437.8" cy="142.9" r="7.1"/><circle cx="441.4" cy="140.1" r="7.1"/><circle cx="445.0" cy="136.3" r="7.1"/><circle cx="448.6" cy="135.3" r="7.1"/><circle cx="452.2" cy="132.2" r="7.1"/><circle cx="455.8" cy="131.4" r="7.1"/><circle cx="459.4" cy="128.2" r="7.1"/><circle cx="463.0" cy="127.9" r="7.1"/><circle cx="466.6" cy="125.2" r="7.1"/><circle cx="470.2" cy="125.5" r="7.1"/><circle cx="473.8" cy="123.0" r="7.1"/><circle cx="477.4" cy="123.7" r="7.1"/><circle cx="481.1" cy="121.3" r="7.1"/><circle cx="484.7" cy="122.2" r="7.1"/><circle cx="488.3" cy="120.0" r="7.1"/><circle cx="491.9" cy="121.0" r="7.1"/><circle cx="495.5" cy="118.9" r="7.1"/><circle cx="499.1" cy="120.0" r="7.1"/><circle cx="502.7" cy="117.8" r="7.1"/><circle cx="506.3" cy="119.1" r="7.1"/><circle cx="509.9" cy="117.0" r="7.1"/><circle cx="513.5" cy="118.3" r="7.1"/><circle cx="517.1" cy="116.4" r="7.1"/><circle cx="520.7" cy="117.8" r="7.1"/><circle cx="524.3" cy="115.9" r="7.1"/><circle cx="528.0" cy="117.4" r="7.1"/><circle cx="531.6" cy="115.4" r="7.1"/><circle cx="535.2" cy="116.9" r="7.1"/><circle cx="538.8" cy="115.0" r="7.1"/><circle cx="542.4" cy="116.5" r="7.1"/><circle cx="546.0" cy="114.6" r="7.1"/><circle cx="549.6" cy="116.2" r="7.1"/><circle cx="553.2" cy="114.3" r="7.1"/><circle cx="556.8" cy="115.9" r="7.1"/><circle cx="560.4" cy="114.0" r="7.1"/><circle cx="564.0" cy="115.7" r="7.1"/><circle cx="567.6" cy="113.9" r="7.1"/><circle cx="571.2" cy="115.6" r="7.1"/><circle cx="574.9" cy="113.8" r="7.1"/></g>
</g>
<path d="M274.3 289.5H439.0" stroke="#000" stroke-width="8.6" fill="none"/>
<path d="M410.0 271.8L439.0 289.5L410.0 306.8" stroke="#000" stroke-width="8.4" fill="none" stroke-linecap="round" stroke-linejoin="miter"/>
<path d="M498.1 147.2C479.0 148 465.2 155.5 457.1 169" stroke="#000" stroke-width="7.2" fill="none"/>
<path d="M447.9 188.3L444.5 162.9L465.6 171.3Z" fill="#000"/>
<text transform="translate(133.62 478.1) scale(0.9524 1)" font-size="34.5" text-anchor="end">0.00</text>
<text transform="translate(133.62 387.8) scale(0.9524 1)" font-size="34.5" text-anchor="end">0.02</text>
<text transform="translate(133.62 297.5) scale(0.9524 1)" font-size="34.5" text-anchor="end">0.04</text>
<text transform="translate(133.62 207.2) scale(0.9524 1)" font-size="34.5" text-anchor="end">0.06</text>
<text transform="translate(133.62 116.9) scale(0.9524 1)" font-size="34.5" text-anchor="end">0.08</text>
<text transform="translate(133.62 26.6) scale(0.9524 1)" font-size="34.5" text-anchor="end">0.10</text>
<text transform="translate(141.62 507.2) scale(0.9524 1)" font-size="34.5" text-anchor="middle">-10</text>
<text transform="translate(286.22 507.2) scale(0.9524 1)" font-size="34.5" text-anchor="middle">0</text>
<text transform="translate(429.74 507.2) scale(0.9524 1)" font-size="34.5" text-anchor="middle">10</text>
<text transform="translate(573.66 507.2) scale(0.9524 1)" font-size="34.5" text-anchor="middle">20</text>
<text x="357.9" y="553.6" font-size="39.5" text-anchor="middle" textLength="311.1" lengthAdjust="spacing">Gate Voltage (V)</text>
<text transform="translate(44.00 458.4) scale(0.9524 1) rotate(-90) scale(1 1.035)" font-size="43.2" >Capacitance</text>
<text transform="translate(44.57 191.3) scale(0.9524 1) rotate(-90) scale(1 1.21)" font-size="43.3" >(</text>
<text transform="translate(44.00 173.2) scale(0.9524 1) rotate(-90)" font-size="36.8" font-family="'Liberation Serif', serif" font-weight="normal" stroke="#000" stroke-width="1">µ</text>
<text transform="translate(44.00 147.7) scale(0.9524 1) rotate(-90) scale(1 1.035)" font-size="43.2" >F/cm</text>
<text transform="translate(21.52 46.2) scale(0.9524 1) rotate(-90)" font-size="26.7" >2</text>
<text transform="translate(44.57 30.1) scale(0.9524 1) rotate(-90) scale(1 1.21)" font-size="43.3" >)</text>
<text transform="translate(162.76 60.6) scale(0.9524 1)" font-size="33.6" font-weight="normal">(a)</text>
<text transform="translate(216.67 66.1) scale(1.0 1.035)" font-size="37.8" fill="#000"><tspan>Al</tspan><tspan font-size="23.5" dy="9.2">2</tspan><tspan dy="-9.2">O</tspan><tspan font-size="23.5" dy="9.2">3</tspan><tspan dy="-9.2">/SiO</tspan><tspan font-size="23.5" dy="9.2">2</tspan></text>
<text x="165.5" y="225.7" font-size="38.2" font-weight="normal" stroke="#000" stroke-width="0.5">V<tspan font-size="25.5" dy="9.2">acc</tspan></text>
<text transform="translate(164.95 272.9) scale(0.97 1)" font-size="38.6">5 - 20 <tspan font-weight="normal" stroke="#000" stroke-width="0.6">V</tspan></text>
<text transform="translate(348.57 270.3) scale(0.985 1)" font-size="38.5" fill="#e8730c">25</text>
<text transform="translate(418.86 270.2) scale(0.955 1)" font-size="37.8" fill="#ff0000">30 V</text>
<rect x="138.48" y="610.50" width="433.24" height="452.70" fill="none" stroke="#000" stroke-width="5.25" stroke-linejoin="miter"/>
<path d="M246.79 1063.20L246.79 1052.00 M246.79 610.50L246.79 621.70 M355.10 1063.20L355.10 1052.00 M355.10 610.50L355.10 621.70 M463.40 1063.20L463.40 1052.00 M463.40 610.50L463.40 621.70 M192.63 1063.20L192.63 1057.40 M192.63 610.50L192.63 616.30 M300.94 1063.20L300.94 1057.40 M300.94 610.50L300.94 616.30 M409.25 1063.20L409.25 1057.40 M409.25 610.50L409.25 616.30 M517.56 1063.20L517.56 1057.40 M517.56 610.50L517.56 616.30 M138.48 1010.30L149.14 1010.30 M571.71 1010.30L561.05 1010.30 M138.48 877.03L149.14 877.03 M571.71 877.03L561.05 877.03 M138.48 743.77L149.14 743.77 M571.71 743.77L561.05 743.77 M138.48 1036.95L144.00 1036.95 M571.71 1036.95L566.19 1036.95 M138.48 983.65L144.00 983.65 M571.71 983.65L566.19 983.65 M138.48 956.99L144.00 956.99 M571.71 956.99L566.19 956.99 M138.48 930.34L144.00 930.34 M571.71 930.34L566.19 930.34 M138.48 903.69L144.00 903.69 M571.71 903.69L566.19 903.69 M138.48 850.38L144.00 850.38 M571.71 850.38L566.19 850.38 M138.48 823.73L144.00 823.73 M571.71 823.73L566.19 823.73 M138.48 797.07L144.00 797.07 M571.71 797.07L566.19 797.07 M138.48 770.42L144.00 770.42 M571.71 770.42L566.19 770.42 M138.48 717.11L144.00 717.11 M571.71 717.11L566.19 717.11 M138.48 690.46L144.00 690.46 M571.71 690.46L566.19 690.46 M138.48 663.81L144.00 663.81 M571.71 663.81L566.19 663.81 M138.48 637.15L144.00 637.15 M571.71 637.15L566.19 637.15" fill="none" stroke="#000" stroke-width="4.8" stroke-linecap="round"/>
<polyline points="192.6,963.7 246.8,960.5 300.9,960.5 355.1,958.9 409.2,903.7 463.4,790.1 517.6,667.8" fill="none" stroke="#ff0000" stroke-width="4.2"/>
<g fill="#ff0000"><circle cx="192.6" cy="963.7" r="10.6"/><circle cx="246.8" cy="960.5" r="10.6"/><circle cx="300.9" cy="960.5" r="10.6"/><circle cx="355.1" cy="958.9" r="10.6"/><circle cx="409.2" cy="903.7" r="10.6"/><circle cx="463.4" cy="790.1" r="10.6"/><circle cx="517.6" cy="667.8" r="10.6"/></g>
<polyline points="192.6,969.0 246.8,962.6 300.9,959.1 355.1,955.9 409.2,954.3 463.4,951.7 517.6,929.0" fill="none" stroke="#0000ff" stroke-width="3.7"/>
<g fill="#0000ff"><circle cx="192.6" cy="969.0" r="10.6"/><circle cx="246.8" cy="962.6" r="10.6"/><circle cx="300.9" cy="959.1" r="10.6"/><circle cx="355.1" cy="955.9" r="10.6"/><circle cx="409.2" cy="954.3" r="10.6"/><circle cx="463.4" cy="951.7" r="10.6"/><circle cx="517.6" cy="929.0" r="10.6"/></g>
<path d="M473.3 826H494.3V893H504.8L484.0 915L463.3 893H473.3Z" fill="#0000ff"/>
<text transform="translate(130.29 1018.8) scale(0.9524 1)" font-size="34.5" text-anchor="end">0</text>
<text transform="translate(130.29 885.5) scale(0.9524 1)" font-size="34.5" text-anchor="end">5</text>
<text transform="translate(130.29 752.3) scale(0.9524 1)" font-size="34.5" text-anchor="end">10</text>
<text transform="translate(130.29 619.0) scale(0.9524 1)" font-size="34.5" text-anchor="end">15</text>
<text transform="translate(137.98 1101.0) scale(0.9524 1)" font-size="34.5" text-anchor="middle">0</text>
<text transform="translate(246.29 1101.0) scale(0.9524 1)" font-size="34.5" text-anchor="middle">10</text>
<text transform="translate(354.60 1101.0) scale(0.9524 1)" font-size="34.5" text-anchor="middle">20</text>
<text transform="translate(462.90 1101.0) scale(0.9524 1)" font-size="34.5" text-anchor="middle">30</text>
<text transform="translate(571.21 1101.0) scale(0.9524 1)" font-size="34.5" text-anchor="middle">40</text>
<text x="353.0" y="1149.8" font-size="39.2" text-anchor="middle" textLength="489.7" lengthAdjust="spacing">Accumulation Voltage (V)</text>
<text transform="translate(74.95 842.5) scale(0.9524 1) rotate(-90)" font-size="43.3" text-anchor="middle">Flatband Voltage (V)</text>
<text transform="translate(163.05 668.4) scale(0.9524 1)" font-size="33.6" font-weight="normal">(b)</text>
<text transform="translate(241.90 849.6) scale(0.992 1.035)" font-size="37.8" fill="#ff0000"><tspan>Al</tspan><tspan font-size="23.5" dy="9.2">2</tspan><tspan dy="-9.2">O</tspan><tspan font-size="23.5" dy="9.2">3</tspan><tspan dy="-9.2">/SiO</tspan><tspan font-size="23.5" dy="9.2">2</tspan></text>
<text transform="translate(346.67 1010.4) scale(1.0 1.035)" font-size="37.4" fill="#0000ff"><tspan>AlON/SiO</tspan><tspan font-size="23.5" dy="9.2">2</tspan></text>
</g>
</svg>
</body></html>
